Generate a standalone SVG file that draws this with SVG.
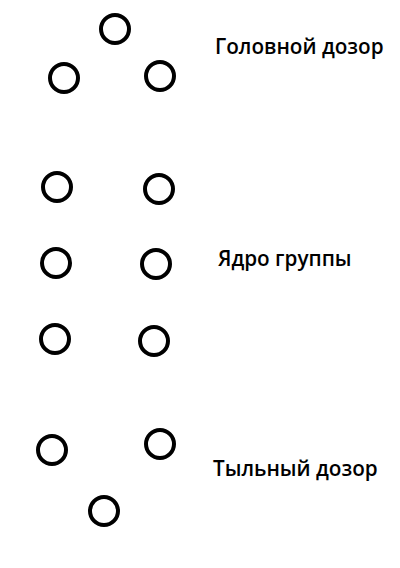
<svg xmlns="http://www.w3.org/2000/svg" width="400" height="568" viewBox="0 0 400 568">
<style>
.soldier{fill:none;stroke:#000;stroke-width:4}
.lbl{font-family:"Open Sans","DejaVu Sans",sans-serif;font-weight:600;font-size:20.7px;fill:#000}
</style>
<rect width="400" height="568" fill="#fff"/>
<g id="head-patrol">
<circle id="s1" class="soldier" cx="115" cy="29" r="14"/>
<circle id="s2" class="soldier" cx="64" cy="78" r="14"/>
<circle id="s3" class="soldier" cx="160" cy="76" r="14"/>
</g>
<g id="core">
<circle id="s4" class="soldier" cx="57" cy="187" r="14"/>
<circle id="s5" class="soldier" cx="159" cy="189" r="14"/>
<circle id="s6" class="soldier" cx="56" cy="263" r="14"/>
<circle id="s7" class="soldier" cx="156" cy="264" r="14"/>
<circle id="s8" class="soldier" cx="55" cy="339" r="14"/>
<circle id="s9" class="soldier" cx="154" cy="341" r="14"/>
</g>
<g id="rear-patrol">
<circle id="s10" class="soldier" cx="52" cy="450" r="14"/>
<circle id="s11" class="soldier" cx="160" cy="444" r="14"/>
<circle id="s12" class="soldier" cx="104" cy="511" r="14"/>
</g>
<g id="labels">
<text class="lbl" x="215" y="54">Головной дозор</text>
<text class="lbl" x="218" y="266">Ядро группы</text>
<text class="lbl" x="213" y="476">Тыльный дозор</text>
</g>
</svg>
